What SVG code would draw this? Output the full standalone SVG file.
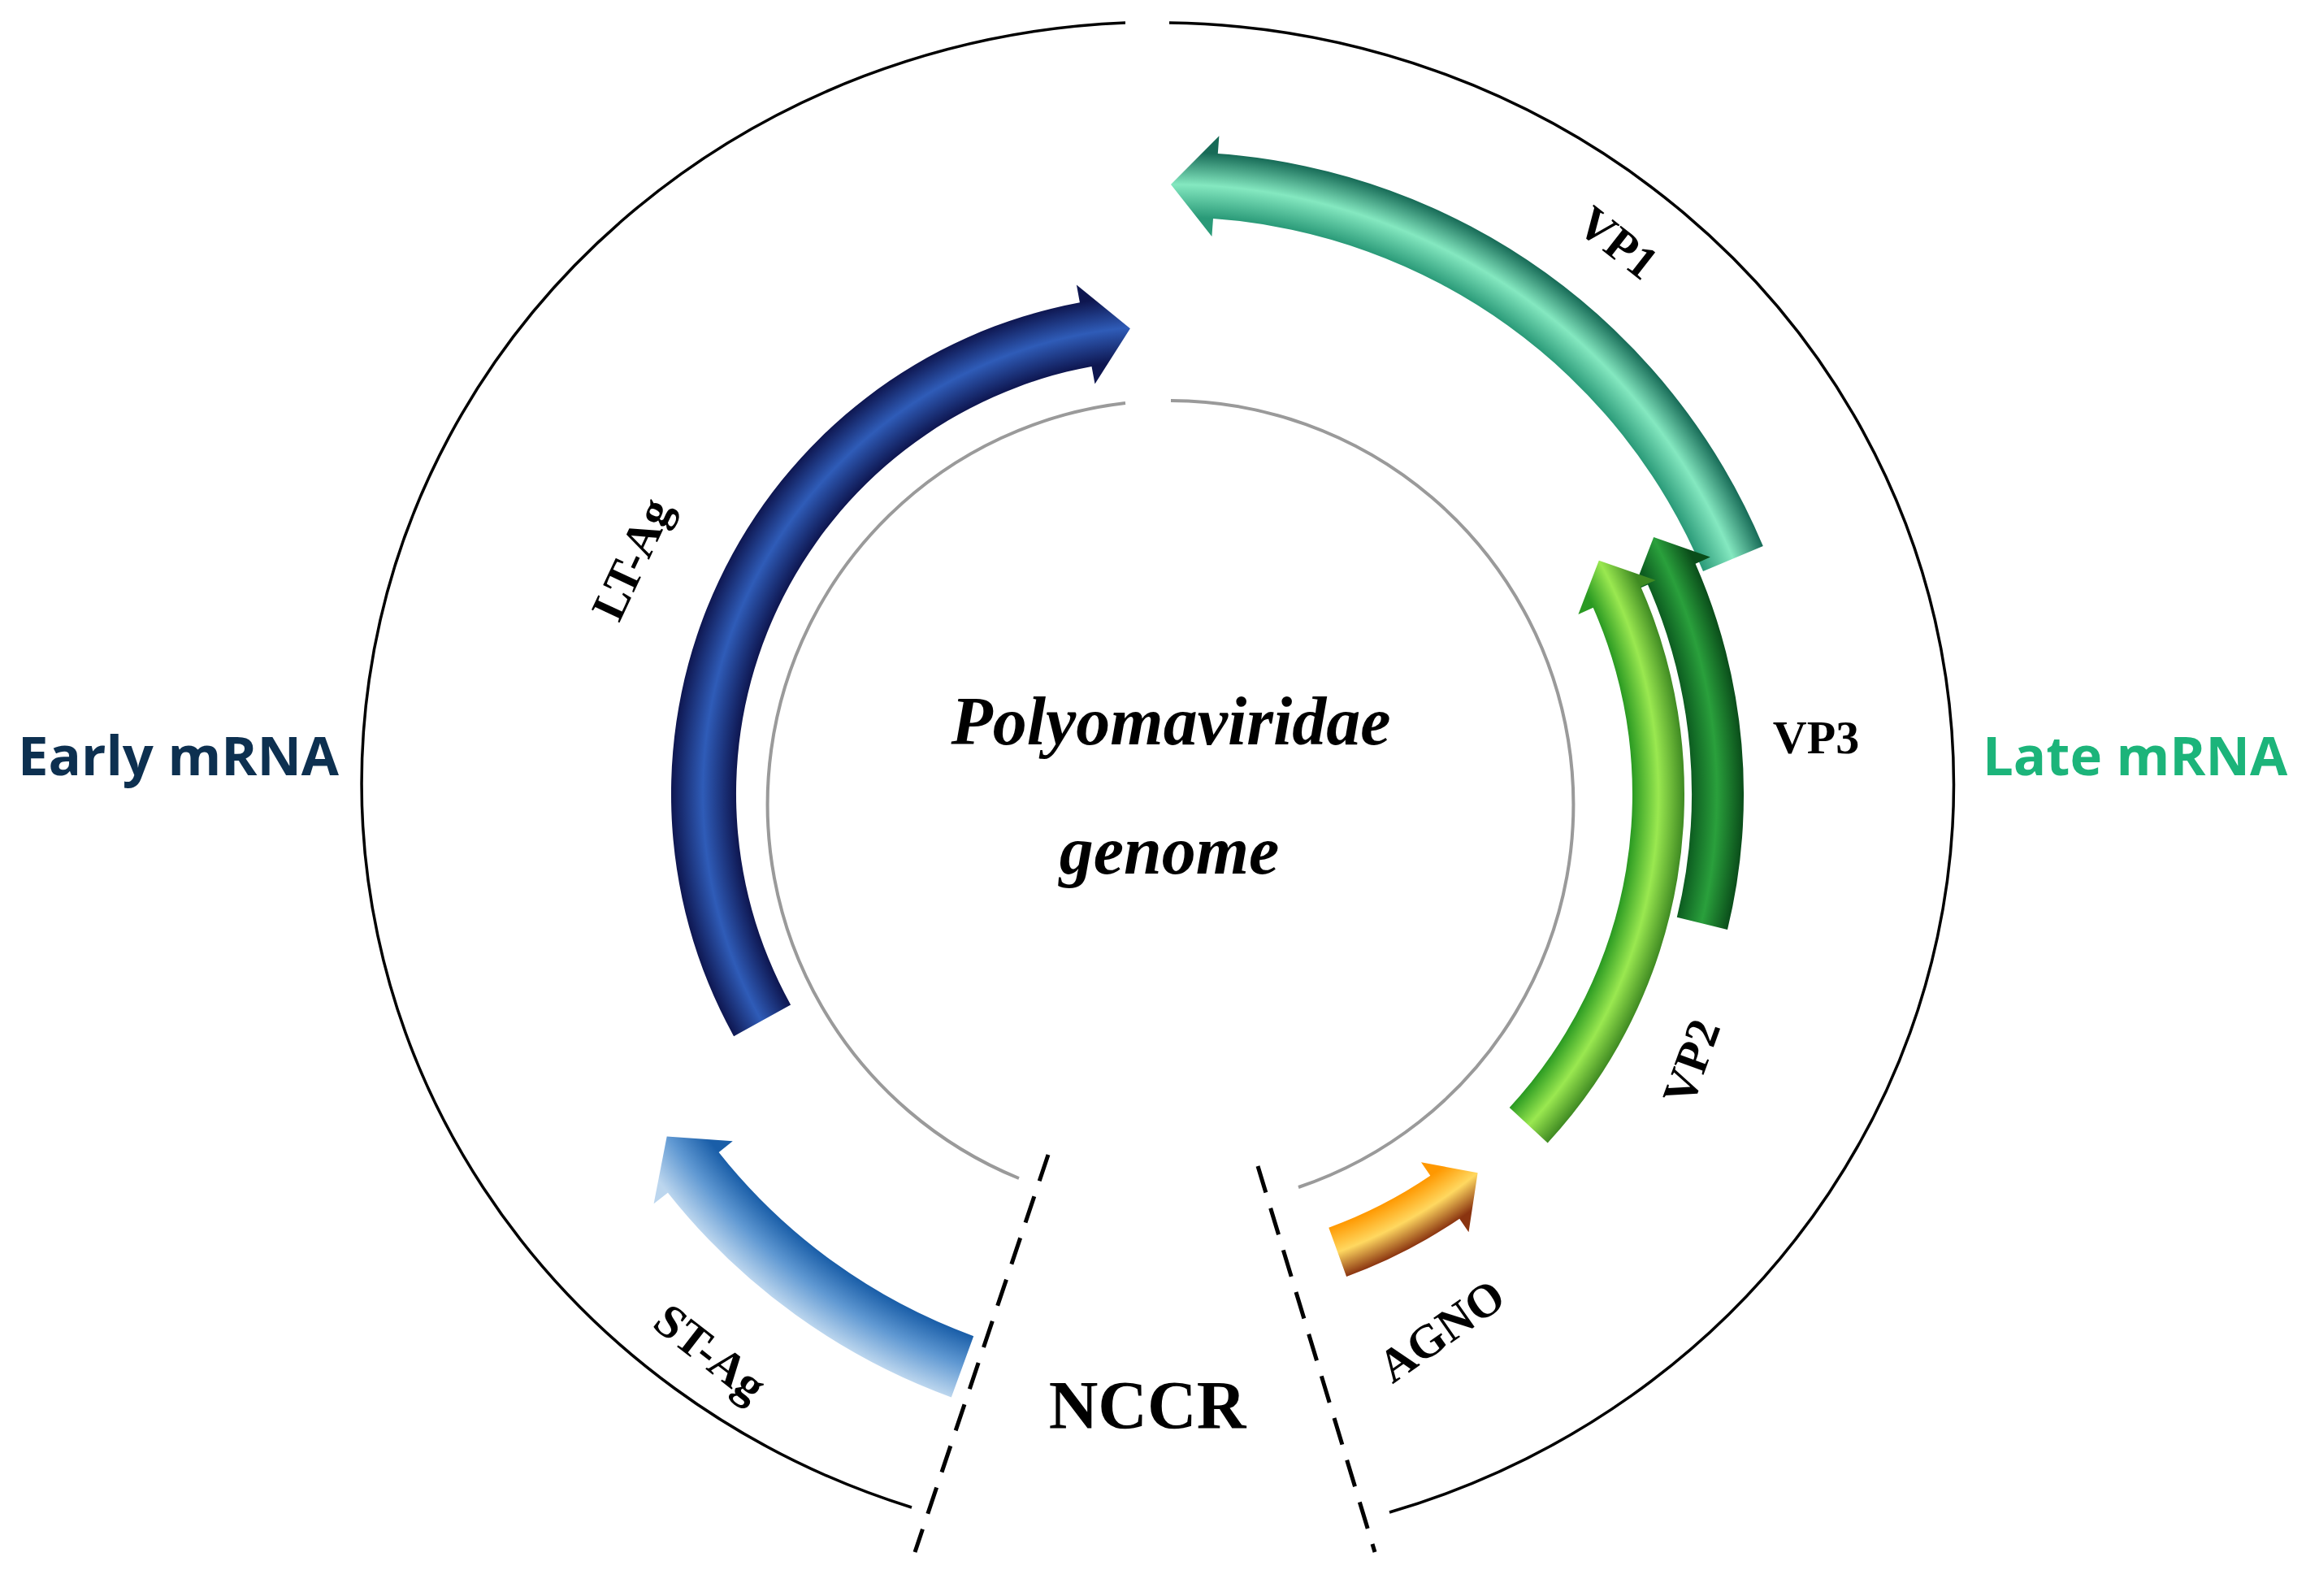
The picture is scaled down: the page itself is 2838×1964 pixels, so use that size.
<svg xmlns="http://www.w3.org/2000/svg" width="2838" height="1964" viewBox="0 0 2838 1964">
<style>
.lbl{font-family:"Liberation Serif",serif;fill:#000}
.side{font-family:"Open Sans","Liberation Sans",sans-serif;font-weight:700;font-size:67px}
</style>
<defs>
<radialGradient id="gLT" gradientUnits="userSpaceOnUse" cx="1441" cy="977" r="800">
<stop offset="0.669" stop-color="#0e1650"/><stop offset="0.72" stop-color="#2f5cb8"/><stop offset="0.769" stop-color="#0e1650"/></radialGradient>
<radialGradient id="gVP1" gradientUnits="userSpaceOnUse" cx="1441" cy="977" r="800">
<stop offset="0.8875" stop-color="#2a9a78"/><stop offset="0.9375" stop-color="#84e8c0"/><stop offset="0.9875" stop-color="#176b57"/></radialGradient>
<radialGradient id="gVP3" gradientUnits="userSpaceOnUse" cx="1441" cy="977" r="800">
<stop offset="0.801" stop-color="#0c5c20"/><stop offset="0.84" stop-color="#2aa03c"/><stop offset="0.881" stop-color="#0a4d1a"/></radialGradient>
<radialGradient id="gVP2" gradientUnits="userSpaceOnUse" cx="1441" cy="977" r="800">
<stop offset="0.71" stop-color="#2a9a22"/><stop offset="0.75" stop-color="#9ae850"/><stop offset="0.79" stop-color="#3f8a22"/></radialGradient>
<radialGradient id="gAG" gradientUnits="userSpaceOnUse" cx="1441" cy="977" r="800">
<stop offset="0.71" stop-color="#ff9800"/><stop offset="0.75" stop-color="#ffd860"/><stop offset="0.79" stop-color="#8a3410"/></radialGradient>
<radialGradient id="gST" gradientUnits="userSpaceOnUse" cx="1441" cy="977" r="800">
<stop offset="0.8875" stop-color="#1a5ea8"/><stop offset="0.935" stop-color="#5f98d2"/><stop offset="0.9875" stop-color="#bcd6ee"/></radialGradient>
</defs>
<g id="connectors" fill="none">
<path d="M 1122 1855 A 981 937 0 0 1 1385 28" stroke="#000" stroke-width="3.5"/>
<path d="M 1439 28 A 981 937 0 0 1 1710 1861" stroke="#000" stroke-width="3.5"/>
<path d="M 1254 1450 A 497 497 0 0 1 1385 496" stroke="#9a9a9a" stroke-width="4"/>
<path d="M 1441 493 A 497 497 0 0 1 1598 1461" stroke="#9a9a9a" stroke-width="4"/>
<line x1="1290" y1="1421" x2="1126" y2="1910" stroke="#000" stroke-width="5" stroke-dasharray="34 20"/>
<line x1="1548" y1="1435" x2="1692" y2="1910" stroke="#000" stroke-width="5" stroke-dasharray="34 20"/>
</g>
<g id="vp1"><path fill="url(#gVP1)" d="M 2096 703 A 710 710 0 0 0 1493 268.9 L 1491.4 290.9 L 1441 227 L 1500.4 167.2 L 1498.8 189.1 A 790 790 0 0 1 2169.8 672.1 Z"/>
<text class="lbl" font-size="58" font-weight="700" transform="translate(1991 299) rotate(38)" text-anchor="middle" dy="19">VP1</text></g>
<g id="vp3"><path fill="url(#gVP3)" d="M 2063.8 1128.8 A 641 641 0 0 0 2028 719.4 L 2009.6 727.4 L 2035.2 661 L 2104.9 685.6 L 2086.6 693.7 A 705 705 0 0 1 2126 1143.9 Z"/>
<text class="lbl" font-size="58" font-weight="700" x="2235" y="927" text-anchor="middle">VP3</text></g>
<g id="vp2"><path fill="url(#gVP2)" d="M 1857.7 1362.9 A 568 568 0 0 0 1960.7 747.8 L 1942.4 755.9 L 1967.8 689.8 L 2037.6 713.9 L 2019.3 722 A 632 632 0 0 1 1904.7 1406.4 Z"/>
<text class="lbl" font-size="58" font-weight="700" transform="translate(2082 1307) rotate(-70)" text-anchor="middle" dy="19">VP2</text></g>
<g id="agno"><path fill="url(#gAG)" d="M 1635.3 1510.7 A 568 568 0 0 0 1760.3 1446.8 L 1749 1430.3 L 1818.6 1443.3 L 1807.5 1516.3 L 1796.2 1499.7 A 632 632 0 0 1 1657.1 1570.9 Z"/>
<text class="lbl" font-size="58" font-weight="700" transform="translate(1774 1638) rotate(-35)" text-anchor="middle" dy="19">AGNO</text></g>
<g id="lt"><path fill="url(#gLT)" d="M 973.1 1236.4 A 535 535 0 0 1 1343.5 450.9 L 1347.5 472.6 L 1390.9 404.2 L 1324.9 350.6 L 1328.9 372.3 A 615 615 0 0 0 903.1 1275.2 Z"/>
<text class="lbl" font-size="58" font-weight="700" transform="translate(778 688) rotate(-65)" text-anchor="middle" dy="19">LT-Ag</text></g>
<g id="st"><path fill="url(#gST)" d="M 1198.2 1644.2 A 710 710 0 0 1 884.6 1418 L 901.8 1404.3 L 820.7 1398.6 L 804.6 1481.3 L 821.9 1467.7 A 790 790 0 0 0 1170.8 1719.4 Z"/>
<text class="lbl" font-size="58" font-weight="700" transform="translate(874 1665) rotate(38)" text-anchor="middle" dy="19">ST-Ag</text></g>
<g id="center"><text class="lbl" font-size="84" font-weight="700" font-style="italic" x="1441" y="916" text-anchor="middle">Polyomaviridae</text>
<text class="lbl" font-size="84" font-weight="700" font-style="italic" x="1439" y="1075" text-anchor="middle">genome</text></g>
<g id="nccr"><text class="lbl" font-size="84" font-weight="700" x="1412" y="1758" text-anchor="middle">NCCR</text></g>
<g id="early"><text class="side" x="22" y="954" fill="#0d3050">Early mRNA</text></g>
<g id="late"><text class="side" x="2440" y="954" fill="#1cb47a">Late mRNA</text></g>
</svg>
